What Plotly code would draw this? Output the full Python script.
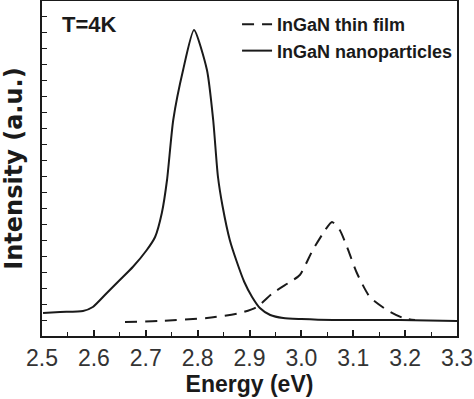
import plotly.graph_objects as go

# InGaN nanoparticles (solid)
np_energy = [2.502, 2.535, 2.579, 2.598, 2.625, 2.650, 2.675, 2.702, 2.718, 2.731,
             2.741, 2.753, 2.772, 2.793, 2.818, 2.830, 2.839, 2.848, 2.862, 2.875,
             2.890, 2.905, 2.920, 2.940, 2.965, 3.000, 3.061, 3.190, 3.300]
np_intensity = [23, 24, 25, 29, 43, 56, 69, 86, 99, 123,
                156, 216, 266, 306, 266, 216, 160, 130, 96, 75,
                54, 39, 28, 21, 18, 17, 16, 16, 15]

# InGaN thin film (dashed)
tf_energy = [2.660, 2.727, 2.818, 2.882, 2.914, 2.945, 2.978, 2.997, 3.022, 3.046,
             3.059, 3.074, 3.088, 3.107, 3.132, 3.165, 3.196, 3.219]
tf_intensity = [14, 15, 18, 23, 29, 43, 54, 61, 86, 106,
                114, 106, 89, 63, 39, 26, 18, 16]

x_ticks = [2.5, 2.6, 2.7, 2.8, 2.9, 3.0, 3.1, 3.2, 3.3]
x_tick_labels = ["2.5", "2.6", "2.7", "2.8", "2.9", "3.0", "3.1", "3.2", "3.3"]

fig = go.Figure()
fig.add_trace(go.Scatter(x=tf_energy, y=tf_intensity, mode="lines", name="InGaN thin film",
                         line=dict(color="#1a1a1a", width=2, dash="12px,8px", shape="spline", smoothing=0.6)))
fig.add_trace(go.Scatter(x=np_energy, y=np_intensity, mode="lines", name="InGaN nanoparticles",
                         line=dict(color="#1a1a1a", width=2, shape="spline", smoothing=0.6)))

fig.add_annotation(text="<b>T=4K</b>", xref="paper", yref="paper", x=0.043, y=0.931,
                   xanchor="left", yanchor="middle", showarrow=False,
                   font=dict(family="Liberation Sans, Arial", size=22, color="#1a1a1a"))

fig.update_layout(
    width=474, height=399,
    margin=dict(l=42, r=17, t=1, b=63),
    plot_bgcolor="white", paper_bgcolor="white",
    font=dict(family="Liberation Sans, Arial", color="#1a1a1a"),
    legend=dict(x=0.47, y=0.985, xanchor="left", yanchor="top", bgcolor="rgba(0,0,0,0)",
                font=dict(family="Liberation Sans, Arial", size=18, color="#1a1a1a", weight="bold"),
                tracegroupgap=0),
    xaxis=dict(range=[2.5, 3.3], tickvals=x_ticks, ticktext=x_tick_labels,
               ticks="inside", ticklen=6, tickwidth=1.5, tickcolor="#1a1a1a",
               minor=dict(dtick=0.05, ticks="inside", ticklen=4, tickwidth=1, tickcolor="#1a1a1a"),
               showline=True, linecolor="#1a1a1a", linewidth=2, mirror=True,
               showgrid=False, zeroline=False, automargin=False,
               tickfont=dict(size=23, color="#333333"),
               title=dict(text="<b>Energy (eV)</b>", font=dict(size=23, color="#1a1a1a"), standoff=6)),
    yaxis=dict(range=[0, 335], tick0=16, dtick=16, ticks="inside", ticklen=5, tickwidth=1,
               tickcolor="#1a1a1a", showticklabels=False,
               showline=True, linecolor="#1a1a1a", linewidth=2, mirror=True,
               showgrid=False, zeroline=False, automargin=False,
               title=dict(text="<b>Intensity (a.u.)</b>",
                          font=dict(family="DejaVu Sans", size=24, color="#1a1a1a"), standoff=17)),
)

fig.write_html("out.html", config={"displayModeBar": False},
               post_script="document.body.style.margin='0';document.body.style.overflow='hidden';")
